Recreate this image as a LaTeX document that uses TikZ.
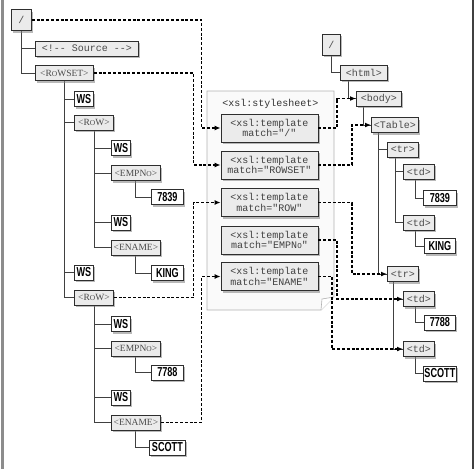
\documentclass[tikz,border=0pt]{standalone}
\usepackage{fontspec}
\setmainfont{Liberation Serif}
\setmonofont{Liberation Mono}
\newfontfamily\condfont[FakeStretch=0.7]{Liberation Sans}
\usetikzlibrary{shadows,arrows.meta,backgrounds}
\definecolor{tagfill}{HTML}{EBEBEB}
\definecolor{tagtext}{HTML}{4A4A4A}
\definecolor{edgec}{HTML}{2E2E2E}
\newcommand{\smo}{{\fontsize{7.5}{8}\selectfont O}}
\tikzset{
 shad/.style={drop shadow={shadow xshift=2pt,shadow yshift=-2pt,fill=black!50,opacity=0.55}},
 box/.style={draw=edgec, line width=0.8pt, inner sep=0pt, minimum height=15pt, anchor=west, shad},
 tag/.style={box, fill=tagfill, text=tagtext, font=\ttfamily\fontsize{10}{10}\selectfont},
 stag/.style={box, fill=tagfill, text=tagtext, font=\rmfamily\fontsize{9.5}{10}\selectfont},
 data/.style={box, fill=white, text=black, font=\condfont\bfseries\fontsize{13}{13}\selectfont},
 tmpl/.style={draw=edgec, line width=0.8pt, fill=tagfill, text=black!75, minimum width=97pt, minimum height=28pt, align=center, inner sep=0pt, font=\ttfamily\fontsize{10}{10.5}\selectfont, shad},
 tl/.style={draw=black!75, line width=0.8pt},
 dl/.style={draw=black, line width=1.5pt, dash pattern=on 3pt off 1.8pt, -{Latex[length=6pt,width=5pt]}},
}
\begin{document}
\begin{tikzpicture}[x=1pt,y=-1pt]
\useasboundingbox (0,0) rectangle (474,469);
% side bars
\fill[black!45] (1,0) rectangle (3.5,469);
\fill[black!75] (471.5,0) rectangle (474,469);
% stylesheet frame
\draw[draw=black!30, fill=black!2, line width=0.8pt] (207,91) -- (334,91) -- (334,297) -- (321,310) -- (207,310) -- cycle;
\draw[draw=black!30, fill=white, line width=0.6pt] (334,297) -- (322,299) -- (321,310);
\node[text=black!80, font=\ttfamily\fontsize{10}{10}\selectfont] (ss) at (270.5,104) {<xsl:stylesheet>};
% templates
\node[tmpl] (t1) at (269.5,128) {<xsl:template\\match="/"};
\node[tmpl] (t2) at (269.5,165) {<xsl:template\\match="ROWSET"};
\node[tmpl] (t3) at (269.5,202.5) {<xsl:template\\match="ROW"};
\node[tmpl] (t4) at (269.5,240) {<xsl:template\\match="EMPN\smo"};
\node[tmpl] (t5) at (269.5,276.5) {<xsl:template\\match="ENAME"};
% left tree
\node[tag, minimum width=20pt, minimum height=21pt] (lroot) at (11,20) {/};
\node[tag, minimum width=103pt] (src) at (35,48.5) {<!-{}- Source -{}->};
\node[stag, minimum width=58pt] (rowset) at (35,73) {<R\smo WSET>};
\node[data, minimum width=19pt] (ws1) at (74,99) {WS};
\node[stag, minimum width=39pt] (row1) at (74,122.5) {<R\smo W>};
\node[data, minimum width=19pt] (ws2) at (111,148) {WS};
\node[stag, minimum width=49pt] (empno1) at (111,173) {<EMPN\smo>};
\node[data, minimum width=32pt] (e7839) at (151,197) {7839};
\node[data, minimum width=19pt] (ws3) at (111,222.5) {WS};
\node[stag, minimum width=49pt] (ename1) at (111,247.5) {<ENAME>};
\node[data, minimum width=32pt] (king) at (151,273) {KING};
\node[data, minimum width=19pt] (ws4) at (74,272.5) {WS};
\node[stag, minimum width=39pt] (row2) at (74,297.5) {<R\smo W>};
\node[data, minimum width=19pt] (ws5) at (111,324) {WS};
\node[stag, minimum width=49pt] (empno2) at (111,348.5) {<EMPN\smo>};
\node[data, minimum width=32pt] (e7788) at (151,372.5) {7788};
\node[data, minimum width=19pt] (ws6) at (111,397.5) {WS};
\node[stag, minimum width=49pt] (ename2) at (111,422.5) {<ENAME>};
\node[data, minimum width=36pt] (scott) at (149,447.5) {SCOTT};
% right tree
\node[tag, minimum width=18pt, minimum height=21pt] (rroot) at (322,44.5) {/};
\node[tag, minimum width=47pt] (html) at (340,72.5) {<html>};
\node[tag, minimum width=45pt] (body) at (356,98.5) {<body>};
\node[tag, minimum width=47pt] (table) at (371,125) {<Table>};
\node[tag, minimum width=31pt] (tr1) at (387,149.5) {<tr>};
\node[tag, minimum width=31pt] (td1) at (403,171.5) {<td>};
\node[data, minimum width=33pt] (r7839) at (423,198) {7839};
\node[tag, minimum width=31pt] (td2) at (403,222.5) {<td>};
\node[data, minimum width=31pt] (rking) at (424,246) {KING};
\node[tag, minimum width=31pt] (tr2) at (387,274) {<tr>};
\node[tag, minimum width=31pt] (td3) at (403,299) {<td>};
\node[data, minimum width=31pt] (r7788) at (424,322.5) {7788};
\node[tag, minimum width=31pt] (td4) at (403,349) {<td>};
\node[data, minimum width=33pt] (rscott) at (423,373.5) {SCOTT};
% tree connectors
\begin{scope}[on background layer]
\foreach \c in {src,rowset} \draw[tl] ([xshift=10pt]lroot.south west) |- (\c.west);
\foreach \c in {ws1,row1,ws4,row2} \draw[tl] ([xshift=29pt]rowset.south west) |- (\c.west);
\foreach \c in {ws2,empno1,ws3,ename1} \draw[tl] ([xshift=20pt]row1.south west) |- (\c.west);
\foreach \c in {ws5,empno2,ws6,ename2} \draw[tl] ([xshift=20pt]row2.south west) |- (\c.west);
\draw[tl] ([xshift=24pt]empno1.south west) |- (e7839.west);
\draw[tl] ([xshift=24pt]ename1.south west) |- (king.west);
\draw[tl] ([xshift=24pt]empno2.south west) |- (e7788.west);
\draw[tl] ([xshift=24pt]ename2.south west) |- (scott.west);
\draw[tl] ([xshift=9pt]rroot.south west) |- (html.west);
\draw[tl] ([xshift=8pt]html.south west) |- (body.west);
\draw[tl] ([xshift=7pt]body.south west) |- (table.west);
\foreach \c in {tr1,tr2} \draw[tl] ([xshift=7pt]table.south west) |- (\c.west);
\foreach \c in {td1,td2} \draw[tl] ([xshift=8pt]tr1.south west) |- (\c.west);
\foreach \c in {td3,td4} \draw[tl] ([xshift=6pt]tr2.south west) |- (\c.west);
\draw[tl] ([xshift=12pt]td1.south west) |- (r7839.west);
\draw[tl] ([xshift=12pt]td2.south west) |- (rking.west);
\draw[tl] ([xshift=12pt]td3.south west) |- (r7788.west);
\draw[tl] ([xshift=12pt]td4.south west) |- (rscott.west);
\end{scope}
% dashed mapping connectors
\draw[dl] (lroot.east) -| ([xshift=-19pt]t1.west) -- (t1.west);
\draw[dl] (rowset.east) -| ([xshift=-27pt]t2.west) -- (t2.west);
\draw[dl] (row2.east) -| ([xshift=-27pt]t3.west) -- (t3.west);
\draw[dl] (ename2.east) -| ([xshift=-19pt]t5.west) -- (t5.west);
\draw[dl] (t1.east) -| ([xshift=-19pt]body.west) -- (body.west);
\draw[dl] (t2.east) -| ([xshift=-19pt]table.west) -- (table.west);
\draw[dl] (t3.east) -| ([xshift=-35pt]tr2.west) -- (tr2.west);
\draw[dl] (t4.east) -| ([xshift=-66pt]td3.west) -- (td3.west);
\draw[dl] (t5.east) -| ([xshift=-71pt]td4.west) -- (td4.west);
\end{tikzpicture}
\end{document}
